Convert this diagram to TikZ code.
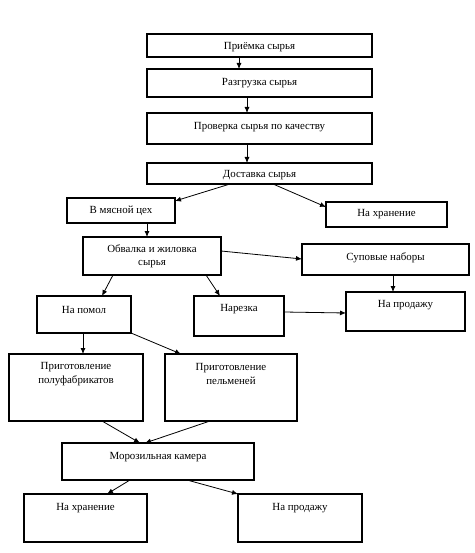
\documentclass[tikz,border=0pt]{standalone}
\usepackage{fontspec}
\setmainfont{Liberation Serif}
\usetikzlibrary{arrows.meta}
\begin{document}
\begin{tikzpicture}[x=1pt,y=-1pt,
  box/.style={draw=black,line width=1.8pt,rectangle,inner sep=0pt,outer sep=0pt},
  txt/.style={inner sep=0pt,align=center,yshift=-1.5pt,font=\fontsize{10.9}{13.5}\selectfont},
  arr/.style={line width=0.8pt,-{Latex[length=6pt,width=5pt]}}]
\useasboundingbox[fill=white] (0,0) rectangle (474,553);
% boxes
\node[box,minimum width=225pt,minimum height=23pt] (priem) at (259.5,45.5) {};
\node[box,minimum width=225pt,minimum height=28pt] (razgr) at (259.5,83) {};
\node[box,minimum width=225pt,minimum height=31pt] (prov) at (259.5,128.5) {};
\node[box,minimum width=225pt,minimum height=21pt] (dost) at (259.5,173.5) {};
\node[box,minimum width=108pt,minimum height=25pt] (ceh) at (121,210.5) {};
\node[box,minimum width=121pt,minimum height=25pt] (hran1) at (386.5,214.5) {};
\node[box,minimum width=138pt,minimum height=38pt] (obv) at (152,256) {};
\node[box,minimum width=167pt,minimum height=31pt] (sup) at (385.5,259.5) {};
\node[box,minimum width=94pt,minimum height=37pt] (pomol) at (84,314.5) {};
\node[box,minimum width=90pt,minimum height=40pt] (narez) at (239,316) {};
\node[box,minimum width=119pt,minimum height=39pt] (prod1) at (405.5,311.5) {};
\node[box,minimum width=134pt,minimum height=67pt] (polu) at (76,387.5) {};
\node[box,minimum width=132pt,minimum height=67pt] (pelm) at (231,387.5) {};
\node[box,minimum width=192pt,minimum height=37pt] (moroz) at (158,461.5) {};
\node[box,minimum width=123pt,minimum height=48pt] (hran2) at (85.5,518) {};
\node[box,minimum width=124pt,minimum height=48pt] (prod2) at (300,518) {};
% texts
\node[txt] (tpriem) at (259.5,46) {Приёмка сырья};
\node[txt] (trazgr) at (259.5,82) {Разгрузка сырья};
\node[txt] (tprov) at (259.5,126) {Проверка сырья по качеству};
\node[txt] (tdost) at (259.5,174) {Доставка сырья};
\node[txt] (tceh) at (121,209) {В мясной цех};
\node[txt] (thran1) at (386.5,213) {На хранение};
\node[txt] (tobv) at (152,255) {Обвалка и жиловка\\сырья};
\node[txt] (tsup) at (385.5,256) {Суповые наборы};
\node[txt] (tpomol) at (84,308) {На помол};
\node[txt] (tnarez) at (239,308) {Нарезка};
\node[txt] (tprod1) at (405.5,304) {На продажу};
\node[txt] (tpolu) at (76,372.5) {Приготовление\\полуфабрикатов};
\node[txt] (tpelm) at (231,372.5) {Приготовление\\пельменей};
\node[txt] (tmoroz) at (158,456) {Морозильная камера};
\node[txt] (thran2) at (85.5,507) {На хранение};
\node[txt] (tprod2) at (300,507) {На продажу};
% connectors
\draw[arr] (priem.south -| 239,0) -- (razgr.north -| 239,0);
\draw[arr] (razgr.south -| 247,0) -- (prov.north -| 247,0);
\draw[arr] (prov.south -| 247,0) -- (dost.north -| 247,0);
\draw[arr] (dost.south -| 230,0) -- (ceh.east |- 0,201);
\draw[arr] (dost.south -| 273,0) -- (hran1.west |- 0,207);
\draw[arr] (ceh.south -| 147,0) -- (obv.north -| 147,0);
\draw[arr] (obv.east |- 0,251) -- (sup.west |- 0,259);
\draw[arr] (obv.south -| 113,0) -- (pomol.north -| 102,0);
\draw[arr] (obv.south -| 206,0) -- (narez.north -| 220,0);
\draw[arr] (sup.south -| 393,0) -- (prod1.north -| 393,0);
\draw[arr] (narez.east |- 0,312) -- (prod1.west |- 0,313);
\draw[arr] (pomol.south -| 83,0) -- (polu.north -| 83,0);
\draw[arr] (pomol.south east) -- (pelm.north -| 181,0);
\draw[arr] (polu.south -| 102,0) -- (moroz.north -| 140,0);
\draw[arr] (pelm.south -| 210,0) -- (moroz.north -| 145,0);
\draw[arr] (moroz.south -| 130,0) -- (hran2.north -| 107,0);
\draw[arr] (moroz.south -| 187,0) -- (prod2.north west);
\end{tikzpicture}
\end{document}
